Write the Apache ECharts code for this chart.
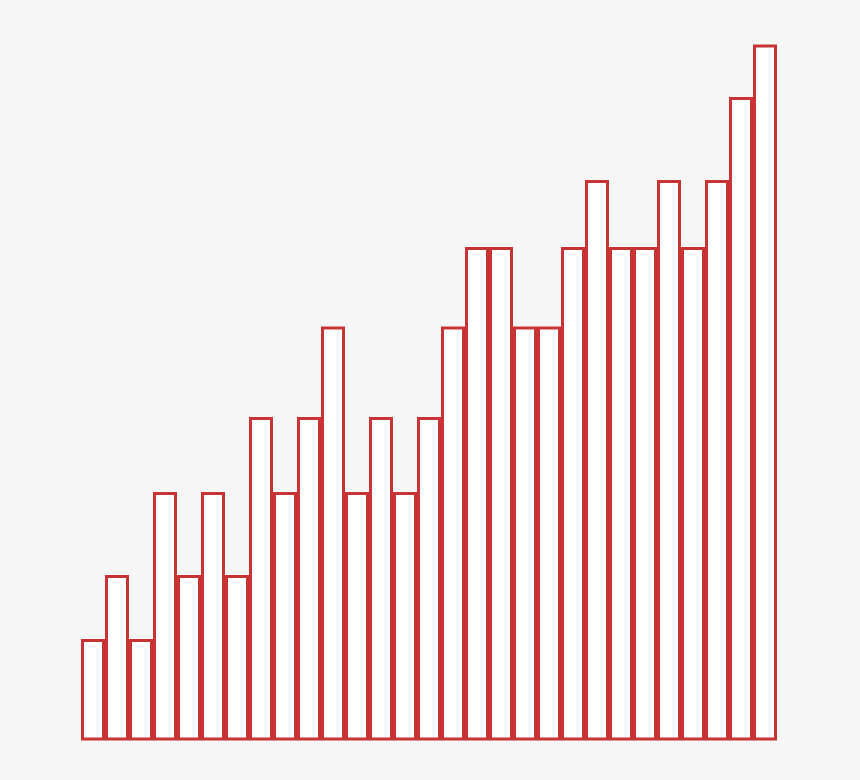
<!DOCTYPE html>
<html>
<head>
<meta charset="utf-8">
<script src="https://cdn.jsdelivr.net/npm/echarts@6/dist/echarts.min.js"></script>
<style>
html,body{margin:0;padding:0;background:#f7f7f7;}
#chart{width:860px;height:780px;}
</style>
</head>
<body>
<div id="chart"></div>
<script>
const categories = ["1","2","3","4","5","6","7","8","9","10","11","12","13","14","15","16","17","18","19","20","21","22","23","24","25","26","27","28","29"];
const values = [101.5, 165.5, 101.5, 248.5, 165.5, 248.5, 165.5, 323.5, 248.5, 323.5, 414, 248.5, 323.5, 248.5, 323.5, 414, 493.5, 493.5, 414, 414, 493.5, 560.5, 493.5, 493.5, 560.5, 493.5, 560.5, 643.5, 696];
const yMax = 696;

const chart = echarts.init(document.getElementById('chart'), null, {renderer: 'canvas'});
chart.setOption({
  backgroundColor: '#f7f7f7',
  animation: false,
  grid: {left: 81, right: 83, top: 44.5, bottom: 39.5},
  xAxis: {
    type: 'category',
    data: categories,
    show: false
  },
  yAxis: {
    type: 'value',
    min: 0,
    max: yMax,
    show: false
  },
  series: [{
    type: 'bar',
    data: values,
    barCategoryGap: '0%',
    itemStyle: {
      color: '#ffffff',
      borderColor: '#c83434',
      borderWidth: 3
    }
  }]
});
</script>
</body>
</html>
